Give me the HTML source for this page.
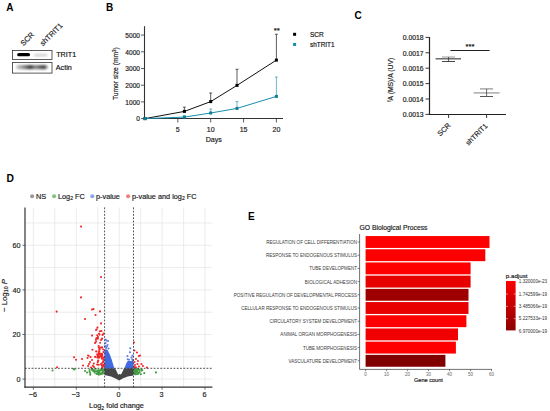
<!DOCTYPE html>
<html><head><meta charset="utf-8"><style>
html,body{margin:0;padding:0;background:#fff;width:550px;height:411px;overflow:hidden}
svg{display:block}
</style></head><body>
<svg width="550" height="411" viewBox="0 0 550 411">
<rect width="550" height="411" fill="#fff"/>
<text x="6.2" y="11.2" font-size="10" font-weight="bold" font-family="Liberation Sans, sans-serif">A</text>
<text stroke="#222" stroke-width="0.18" transform="translate(23.6,46.2) rotate(-45)" font-size="7.4" font-family="Liberation Sans, sans-serif" fill="#222">SCR</text>
<text stroke="#222" stroke-width="0.18" transform="translate(43,46.2) rotate(-45)" font-size="7.4" font-family="Liberation Sans, sans-serif" fill="#222">shTRIT1</text>
<defs><filter id="bl" x="-50%" y="-50%" width="200%" height="200%"><feGaussianBlur stdDeviation="0.6"/></filter><filter id="bl2" x="-50%" y="-50%" width="200%" height="200%"><feGaussianBlur stdDeviation="1.0"/></filter><linearGradient id="cbar" x1="0" y1="0" x2="0" y2="1"><stop offset="0" stop-color="#ff0000"/><stop offset="1" stop-color="#8b0000"/></linearGradient><linearGradient id="act" x1="0" y1="0" x2="1" y2="0"><stop offset="0" stop-color="#d0d0d0"/><stop offset="0.25" stop-color="#888"/><stop offset="0.45" stop-color="#3a3a3a"/><stop offset="0.6" stop-color="#8a8a8a"/><stop offset="0.88" stop-color="#444"/><stop offset="1" stop-color="#bbb"/></linearGradient></defs>
<rect x="12.5" y="50.5" width="39.5" height="9" fill="#fff" stroke="#333" stroke-width="0.8"/>
<rect x="12.5" y="62.5" width="39.5" height="10.6" fill="#fff" stroke="#333" stroke-width="0.8"/>
<rect x="17.2" y="52.9" width="12.8" height="3.4" rx="1.6" fill="#000" filter="url(#bl)"/>
<rect x="34" y="53.8" width="13.5" height="2.6" rx="1.2" fill="#d4d4d4" filter="url(#bl2)"/>
<rect x="16" y="65" width="32" height="4.2" rx="2" fill="url(#act)" filter="url(#bl2)"/>
<text stroke="#111" stroke-width="0.18" x="56.2" y="57.3" font-size="7.2" font-family="Liberation Sans, sans-serif" fill="#111">TRIT1</text>
<text stroke="#111" stroke-width="0.18" x="55.8" y="69.9" font-size="7.2" font-family="Liberation Sans, sans-serif" fill="#111">Actin</text>
<text x="106" y="11.4" font-size="10" font-weight="bold" font-family="Liberation Sans, sans-serif">B</text>
<line x1="144.5" y1="26.2" x2="144.5" y2="119" stroke="#333" stroke-width="1.1"/>
<line x1="144" y1="118.5" x2="283" y2="118.5" stroke="#333" stroke-width="1.1"/>
<line x1="141" y1="118.6" x2="145.0" y2="118.6" stroke="#333" stroke-width="0.8"/>
<text stroke="#222" stroke-width="0.18" x="140" y="121.4" font-size="6.6" text-anchor="end" font-family="Liberation Sans, sans-serif" fill="#222">0</text>
<line x1="141" y1="101.9" x2="145.0" y2="101.9" stroke="#333" stroke-width="0.8"/>
<text stroke="#222" stroke-width="0.18" x="140" y="104.7" font-size="6.6" text-anchor="end" font-family="Liberation Sans, sans-serif" fill="#222">1000</text>
<line x1="141" y1="85.2" x2="145.0" y2="85.2" stroke="#333" stroke-width="0.8"/>
<text stroke="#222" stroke-width="0.18" x="140" y="88.0" font-size="6.6" text-anchor="end" font-family="Liberation Sans, sans-serif" fill="#222">2000</text>
<line x1="141" y1="68.5" x2="145.0" y2="68.5" stroke="#333" stroke-width="0.8"/>
<text stroke="#222" stroke-width="0.18" x="140" y="71.3" font-size="6.6" text-anchor="end" font-family="Liberation Sans, sans-serif" fill="#222">3000</text>
<line x1="141" y1="51.8" x2="145.0" y2="51.8" stroke="#333" stroke-width="0.8"/>
<text stroke="#222" stroke-width="0.18" x="140" y="54.6" font-size="6.6" text-anchor="end" font-family="Liberation Sans, sans-serif" fill="#222">4000</text>
<line x1="141" y1="35.1" x2="145.0" y2="35.1" stroke="#333" stroke-width="0.8"/>
<text stroke="#222" stroke-width="0.18" x="140" y="37.9" font-size="6.6" text-anchor="end" font-family="Liberation Sans, sans-serif" fill="#222">5000</text>
<line x1="177.8" y1="118.6" x2="177.8" y2="122.5" stroke="#333" stroke-width="0.8"/>
<text stroke="#222" stroke-width="0.18" x="177.8" y="131.7" font-size="7" text-anchor="middle" font-family="Liberation Sans, sans-serif" fill="#222">5</text>
<line x1="210.7" y1="118.6" x2="210.7" y2="122.5" stroke="#333" stroke-width="0.8"/>
<text stroke="#222" stroke-width="0.18" x="210.7" y="131.7" font-size="7" text-anchor="middle" font-family="Liberation Sans, sans-serif" fill="#222">10</text>
<line x1="243.6" y1="118.6" x2="243.6" y2="122.5" stroke="#333" stroke-width="0.8"/>
<text stroke="#222" stroke-width="0.18" x="243.6" y="131.7" font-size="7" text-anchor="middle" font-family="Liberation Sans, sans-serif" fill="#222">15</text>
<line x1="276.4" y1="118.6" x2="276.4" y2="122.5" stroke="#333" stroke-width="0.8"/>
<text stroke="#222" stroke-width="0.18" x="276.4" y="131.7" font-size="7" text-anchor="middle" font-family="Liberation Sans, sans-serif" fill="#222">20</text>
<text stroke="#222" stroke-width="0.18" x="213.8" y="142.1" font-size="7.1" text-anchor="middle" font-family="Liberation Sans, sans-serif" fill="#222">Days</text>
<text stroke="#222" stroke-width="0.18" transform="translate(118.4,73.6) rotate(-90)" font-size="6.7" text-anchor="middle" font-family="Liberation Sans, sans-serif" fill="#222">Tumor size (mm<tspan font-size="4.5" dy="-2.5">3</tspan><tspan dy="2.5">)</tspan></text>
<line x1="184.4" y1="107.2" x2="184.4" y2="111.4" stroke="#333" stroke-width="0.8"/>
<line x1="182.9" y1="107.2" x2="185.9" y2="107.2" stroke="#333" stroke-width="0.8"/>
<line x1="210.7" y1="93.0" x2="210.7" y2="101.6" stroke="#333" stroke-width="0.8"/>
<line x1="209.2" y1="93.0" x2="212.2" y2="93.0" stroke="#333" stroke-width="0.8"/>
<line x1="237.0" y1="69.3" x2="237.0" y2="85.4" stroke="#333" stroke-width="0.8"/>
<line x1="235.5" y1="69.3" x2="238.5" y2="69.3" stroke="#333" stroke-width="0.8"/>
<line x1="276.4" y1="34.3" x2="276.4" y2="60.1" stroke="#333" stroke-width="0.8"/>
<line x1="274.9" y1="34.3" x2="277.9" y2="34.3" stroke="#333" stroke-width="0.8"/>
<line x1="184.4" y1="115.9" x2="184.4" y2="117.1" stroke="#45a6bd" stroke-width="0.8"/>
<line x1="182.9" y1="115.9" x2="185.9" y2="115.9" stroke="#45a6bd" stroke-width="0.8"/>
<line x1="210.7" y1="109.0" x2="210.7" y2="113.0" stroke="#45a6bd" stroke-width="0.8"/>
<line x1="209.2" y1="109.0" x2="212.2" y2="109.0" stroke="#45a6bd" stroke-width="0.8"/>
<line x1="237.0" y1="101.6" x2="237.0" y2="108.4" stroke="#45a6bd" stroke-width="0.8"/>
<line x1="235.5" y1="101.6" x2="238.5" y2="101.6" stroke="#45a6bd" stroke-width="0.8"/>
<line x1="276.4" y1="77.0" x2="276.4" y2="96.4" stroke="#45a6bd" stroke-width="0.8"/>
<line x1="274.9" y1="77.0" x2="277.9" y2="77.0" stroke="#45a6bd" stroke-width="0.8"/>
<polyline fill="none" stroke="#111" stroke-width="1" points="145.0,118.6 184.4,111.4 210.7,101.6 237.0,85.4 276.4,60.1"/>
<polyline fill="none" stroke="#1590AC" stroke-width="1" points="145.0,118.6 184.4,117.1 210.7,113.0 237.0,108.4 276.4,96.4"/>
<rect x="143.5" y="117.1" width="3" height="3" fill="#000"/>
<rect x="182.9" y="109.9" width="3" height="3" fill="#000"/>
<rect x="209.2" y="100.1" width="3" height="3" fill="#000"/>
<rect x="235.5" y="83.9" width="3" height="3" fill="#000"/>
<rect x="274.9" y="58.6" width="3" height="3" fill="#000"/>
<rect x="143.5" y="117.1" width="3" height="3" fill="#0e7d94"/>
<rect x="182.9" y="115.6" width="3" height="3" fill="#0e7d94"/>
<rect x="209.2" y="111.5" width="3" height="3" fill="#0e7d94"/>
<rect x="235.5" y="106.9" width="3" height="3" fill="#0e7d94"/>
<rect x="274.9" y="94.9" width="3" height="3" fill="#0e7d94"/>
<text stroke="#111" stroke-width="0.18" x="276.8" y="32.9" font-size="8" text-anchor="middle" font-family="Liberation Sans, sans-serif" fill="#111">**</text>
<rect x="293.1" y="32.8" width="3" height="3" fill="#000"/>
<rect x="293.1" y="43" width="3" height="3" fill="#1590AC"/>
<text stroke="#111" stroke-width="0.18" x="310" y="37.0" font-size="7.5" textLength="13.8" lengthAdjust="spacingAndGlyphs" font-family="Liberation Sans, sans-serif" fill="#111">SCR</text>
<text stroke="#111" stroke-width="0.18" x="310" y="47.3" font-size="7.5" textLength="24.6" lengthAdjust="spacingAndGlyphs" font-family="Liberation Sans, sans-serif" fill="#111">shTRIT1</text>
<text x="354.4" y="19" font-size="10" font-weight="bold" font-family="Liberation Sans, sans-serif">C</text>
<line x1="429.5" y1="37" x2="429.5" y2="115" stroke="#222" stroke-width="1.2"/>
<line x1="429" y1="114.5" x2="506" y2="114.5" stroke="#222" stroke-width="1.2"/>
<line x1="425.5" y1="114.4" x2="429.4" y2="114.4" stroke="#222" stroke-width="0.9"/>
<text stroke="#222" stroke-width="0.18" x="423.6" y="117.2" font-size="6.8" text-anchor="end" font-family="Liberation Sans, sans-serif" fill="#222">0.0013</text>
<line x1="425.5" y1="99.0" x2="429.4" y2="99.0" stroke="#222" stroke-width="0.9"/>
<text stroke="#222" stroke-width="0.18" x="423.6" y="101.8" font-size="6.8" text-anchor="end" font-family="Liberation Sans, sans-serif" fill="#222">0.0014</text>
<line x1="425.5" y1="83.6" x2="429.4" y2="83.6" stroke="#222" stroke-width="0.9"/>
<text stroke="#222" stroke-width="0.18" x="423.6" y="86.4" font-size="6.8" text-anchor="end" font-family="Liberation Sans, sans-serif" fill="#222">0.0015</text>
<line x1="425.5" y1="68.2" x2="429.4" y2="68.2" stroke="#222" stroke-width="0.9"/>
<text stroke="#222" stroke-width="0.18" x="423.6" y="71.0" font-size="6.8" text-anchor="end" font-family="Liberation Sans, sans-serif" fill="#222">0.0016</text>
<line x1="425.5" y1="52.8" x2="429.4" y2="52.8" stroke="#222" stroke-width="0.9"/>
<text stroke="#222" stroke-width="0.18" x="423.6" y="55.6" font-size="6.8" text-anchor="end" font-family="Liberation Sans, sans-serif" fill="#222">0.0017</text>
<line x1="425.5" y1="37.4" x2="429.4" y2="37.4" stroke="#222" stroke-width="0.9"/>
<text stroke="#222" stroke-width="0.18" x="423.6" y="40.2" font-size="6.8" text-anchor="end" font-family="Liberation Sans, sans-serif" fill="#222">0.0018</text>
<line x1="448.6" y1="114.4" x2="448.6" y2="118" stroke="#222" stroke-width="0.9"/>
<line x1="486.6" y1="114.4" x2="486.6" y2="118" stroke="#222" stroke-width="0.9"/>
<text stroke="#222" stroke-width="0.18" transform="translate(451,125.8) rotate(-45)" font-size="7.2" text-anchor="end" font-family="Liberation Sans, sans-serif" fill="#222">SCR</text>
<text stroke="#222" stroke-width="0.18" transform="translate(488,126.3) rotate(-45)" font-size="7.2" text-anchor="end" font-family="Liberation Sans, sans-serif" fill="#222">shTRIT1</text>
<text stroke="#222" stroke-width="0.18" transform="translate(393.2,79.7) rotate(-90)" font-size="6.8" text-anchor="middle" font-family="Liberation Sans, sans-serif" fill="#222"><tspan font-size="4.5" dy="-2.5">f</tspan><tspan dy="2.5">A (MS)/A (UV)</tspan></text>
<line x1="442" y1="57" x2="455" y2="57" stroke="#9a9a9a" stroke-width="1"/>
<line x1="435.6" y1="58.8" x2="461" y2="58.8" stroke="#555" stroke-width="1.3"/>
<line x1="448.6" y1="57" x2="448.6" y2="61.5" stroke="#333" stroke-width="0.8"/>
<line x1="442" y1="61.5" x2="455" y2="61.5" stroke="#333" stroke-width="0.9"/>
<line x1="480" y1="88.9" x2="493" y2="88.9" stroke="#888" stroke-width="1.1"/>
<line x1="473.6" y1="92.9" x2="499.6" y2="92.9" stroke="#aaa" stroke-width="1.5"/>
<line x1="486.6" y1="88.9" x2="486.6" y2="96.5" stroke="#444" stroke-width="0.8"/>
<line x1="480" y1="96.5" x2="493" y2="96.5" stroke="#444" stroke-width="0.9"/>
<line x1="450.4" y1="50.5" x2="489.6" y2="50.5" stroke="#222" stroke-width="1"/>
<text stroke="#111" stroke-width="0.18" x="470" y="49.2" font-size="7.6" text-anchor="middle" font-family="Liberation Sans, sans-serif" fill="#111">***</text>
<text x="6.6" y="181.6" font-size="10.3" font-weight="bold" font-family="Liberation Sans, sans-serif">D</text>
<line x1="33.4" y1="207.4" x2="33.4" y2="387.2" stroke="#e4e4e4" stroke-width="0.7"/>
<line x1="54.8" y1="207.4" x2="54.8" y2="387.2" stroke="#e4e4e4" stroke-width="0.7"/>
<line x1="76.3" y1="207.4" x2="76.3" y2="387.2" stroke="#e4e4e4" stroke-width="0.7"/>
<line x1="97.8" y1="207.4" x2="97.8" y2="387.2" stroke="#e4e4e4" stroke-width="0.7"/>
<line x1="119.2" y1="207.4" x2="119.2" y2="387.2" stroke="#e4e4e4" stroke-width="0.7"/>
<line x1="140.7" y1="207.4" x2="140.7" y2="387.2" stroke="#e4e4e4" stroke-width="0.7"/>
<line x1="162.1" y1="207.4" x2="162.1" y2="387.2" stroke="#e4e4e4" stroke-width="0.7"/>
<line x1="183.6" y1="207.4" x2="183.6" y2="387.2" stroke="#e4e4e4" stroke-width="0.7"/>
<line x1="205.0" y1="207.4" x2="205.0" y2="387.2" stroke="#e4e4e4" stroke-width="0.7"/>
<line x1="25.0" y1="379.1" x2="212.4" y2="379.1" stroke="#e4e4e4" stroke-width="0.7"/>
<line x1="25.0" y1="356.8" x2="212.4" y2="356.8" stroke="#e4e4e4" stroke-width="0.7"/>
<line x1="25.0" y1="334.5" x2="212.4" y2="334.5" stroke="#e4e4e4" stroke-width="0.7"/>
<line x1="25.0" y1="312.2" x2="212.4" y2="312.2" stroke="#e4e4e4" stroke-width="0.7"/>
<line x1="25.0" y1="289.9" x2="212.4" y2="289.9" stroke="#e4e4e4" stroke-width="0.7"/>
<line x1="25.0" y1="267.6" x2="212.4" y2="267.6" stroke="#e4e4e4" stroke-width="0.7"/>
<line x1="25.0" y1="245.3" x2="212.4" y2="245.3" stroke="#e4e4e4" stroke-width="0.7"/>
<line x1="25.0" y1="223.0" x2="212.4" y2="223.0" stroke="#e4e4e4" stroke-width="0.7"/>
<polygon fill="#464646" points="104.5,368.2 115,368.2 116.5,371 118.2,374.8 119.5,374 121,374.5 122.6,371.5 124.1,368.2 133.4,368.2 133.4,375.5 127.7,376.6 122.6,378.4 119.3,380.4 116,378.8 111,376.6 104.5,375.1"/>
<polygon fill="#4169E1" points="104.5,368.4 104.5,349.4 107.3,349.4 109.5,353.8 111.7,359.6 114.4,368.4"/>
<polygon fill="#4169E1" points="124.4,368.4 126.3,363.2 127.7,361 131.4,361 133.4,359.4 133.4,368.4"/>
<path d="M99.9,369.6a1.05,1.05 0 1,0 2.1,0a1.05,1.05 0 1,0 -2.1,0M91.6,369.2a1.05,1.05 0 1,0 2.1,0a1.05,1.05 0 1,0 -2.1,0M101.1,369.7a1.05,1.05 0 1,0 2.1,0a1.05,1.05 0 1,0 -2.1,0M102.6,370.1a1.05,1.05 0 1,0 2.1,0a1.05,1.05 0 1,0 -2.1,0M99.8,369.8a1.05,1.05 0 1,0 2.1,0a1.05,1.05 0 1,0 -2.1,0M93.2,370.8a1.05,1.05 0 1,0 2.1,0a1.05,1.05 0 1,0 -2.1,0M89.1,373.1a1.05,1.05 0 1,0 2.1,0a1.05,1.05 0 1,0 -2.1,0M94.0,371.4a1.05,1.05 0 1,0 2.1,0a1.05,1.05 0 1,0 -2.1,0M102.7,369.4a1.05,1.05 0 1,0 2.1,0a1.05,1.05 0 1,0 -2.1,0M99.5,370.4a1.05,1.05 0 1,0 2.1,0a1.05,1.05 0 1,0 -2.1,0M101.6,372.2a1.05,1.05 0 1,0 2.1,0a1.05,1.05 0 1,0 -2.1,0M95.6,373.6a1.05,1.05 0 1,0 2.1,0a1.05,1.05 0 1,0 -2.1,0M101.7,370.4a1.05,1.05 0 1,0 2.1,0a1.05,1.05 0 1,0 -2.1,0M93.4,370.2a1.05,1.05 0 1,0 2.1,0a1.05,1.05 0 1,0 -2.1,0M95.7,371.2a1.05,1.05 0 1,0 2.1,0a1.05,1.05 0 1,0 -2.1,0M97.9,370.3a1.05,1.05 0 1,0 2.1,0a1.05,1.05 0 1,0 -2.1,0M96.4,370.5a1.05,1.05 0 1,0 2.1,0a1.05,1.05 0 1,0 -2.1,0M88.5,371.6a1.05,1.05 0 1,0 2.1,0a1.05,1.05 0 1,0 -2.1,0M102.7,372.1a1.05,1.05 0 1,0 2.1,0a1.05,1.05 0 1,0 -2.1,0M102.5,370.7a1.05,1.05 0 1,0 2.1,0a1.05,1.05 0 1,0 -2.1,0M90.8,369.1a1.05,1.05 0 1,0 2.1,0a1.05,1.05 0 1,0 -2.1,0M97.3,374.1a1.05,1.05 0 1,0 2.1,0a1.05,1.05 0 1,0 -2.1,0M89.2,374.7a1.05,1.05 0 1,0 2.1,0a1.05,1.05 0 1,0 -2.1,0M97.5,372.7a1.05,1.05 0 1,0 2.1,0a1.05,1.05 0 1,0 -2.1,0M99.8,374.2a1.05,1.05 0 1,0 2.1,0a1.05,1.05 0 1,0 -2.1,0M97.7,373.7a1.05,1.05 0 1,0 2.1,0a1.05,1.05 0 1,0 -2.1,0M99.2,373.8a1.05,1.05 0 1,0 2.1,0a1.05,1.05 0 1,0 -2.1,0M101.0,372.9a1.05,1.05 0 1,0 2.1,0a1.05,1.05 0 1,0 -2.1,0M96.6,371.7a1.05,1.05 0 1,0 2.1,0a1.05,1.05 0 1,0 -2.1,0M99.0,373.3a1.05,1.05 0 1,0 2.1,0a1.05,1.05 0 1,0 -2.1,0M93.6,372.8a1.05,1.05 0 1,0 2.1,0a1.05,1.05 0 1,0 -2.1,0M97.8,370.3a1.05,1.05 0 1,0 2.1,0a1.05,1.05 0 1,0 -2.1,0M97.8,374.7a1.05,1.05 0 1,0 2.1,0a1.05,1.05 0 1,0 -2.1,0M98.4,372.5a1.05,1.05 0 1,0 2.1,0a1.05,1.05 0 1,0 -2.1,0M97.9,370.6a1.05,1.05 0 1,0 2.1,0a1.05,1.05 0 1,0 -2.1,0M102.6,371.5a1.05,1.05 0 1,0 2.1,0a1.05,1.05 0 1,0 -2.1,0M102.3,369.6a1.05,1.05 0 1,0 2.1,0a1.05,1.05 0 1,0 -2.1,0M91.8,370.6a1.05,1.05 0 1,0 2.1,0a1.05,1.05 0 1,0 -2.1,0M101.2,370.5a1.05,1.05 0 1,0 2.1,0a1.05,1.05 0 1,0 -2.1,0M102.0,372.1a1.05,1.05 0 1,0 2.1,0a1.05,1.05 0 1,0 -2.1,0M98.1,372.7a1.05,1.05 0 1,0 2.1,0a1.05,1.05 0 1,0 -2.1,0M92.3,370.9a1.05,1.05 0 1,0 2.1,0a1.05,1.05 0 1,0 -2.1,0M97.8,374.7a1.05,1.05 0 1,0 2.1,0a1.05,1.05 0 1,0 -2.1,0M90.7,369.8a1.05,1.05 0 1,0 2.1,0a1.05,1.05 0 1,0 -2.1,0M91.8,369.6a1.05,1.05 0 1,0 2.1,0a1.05,1.05 0 1,0 -2.1,0M100.9,373.3a1.05,1.05 0 1,0 2.1,0a1.05,1.05 0 1,0 -2.1,0M102.6,369.6a1.05,1.05 0 1,0 2.1,0a1.05,1.05 0 1,0 -2.1,0M95.5,374.0a1.05,1.05 0 1,0 2.1,0a1.05,1.05 0 1,0 -2.1,0M100.6,368.9a1.05,1.05 0 1,0 2.1,0a1.05,1.05 0 1,0 -2.1,0M97.2,374.2a1.05,1.05 0 1,0 2.1,0a1.05,1.05 0 1,0 -2.1,0M94.7,368.8a1.05,1.05 0 1,0 2.1,0a1.05,1.05 0 1,0 -2.1,0M101.7,373.8a1.05,1.05 0 1,0 2.1,0a1.05,1.05 0 1,0 -2.1,0M102.7,370.3a1.05,1.05 0 1,0 2.1,0a1.05,1.05 0 1,0 -2.1,0M102.0,373.1a1.05,1.05 0 1,0 2.1,0a1.05,1.05 0 1,0 -2.1,0M98.4,371.5a1.05,1.05 0 1,0 2.1,0a1.05,1.05 0 1,0 -2.1,0M51.5,370.5a1.05,1.05 0 1,0 2.1,0a1.05,1.05 0 1,0 -2.1,0M72.5,369.0a1.05,1.05 0 1,0 2.1,0a1.05,1.05 0 1,0 -2.1,0M73.5,369.5a1.05,1.05 0 1,0 2.1,0a1.05,1.05 0 1,0 -2.1,0M154.9,372.4a1.05,1.05 0 1,0 2.1,0a1.05,1.05 0 1,0 -2.1,0M84.0,371.0a1.05,1.05 0 1,0 2.1,0a1.05,1.05 0 1,0 -2.1,0M86.0,372.5a1.05,1.05 0 1,0 2.1,0a1.05,1.05 0 1,0 -2.1,0M88.5,370.0a1.05,1.05 0 1,0 2.1,0a1.05,1.05 0 1,0 -2.1,0M133.1,373.3a1.05,1.05 0 1,0 2.1,0a1.05,1.05 0 1,0 -2.1,0M134.1,370.2a1.05,1.05 0 1,0 2.1,0a1.05,1.05 0 1,0 -2.1,0M140.5,369.4a1.05,1.05 0 1,0 2.1,0a1.05,1.05 0 1,0 -2.1,0M138.6,372.1a1.05,1.05 0 1,0 2.1,0a1.05,1.05 0 1,0 -2.1,0M135.2,372.2a1.05,1.05 0 1,0 2.1,0a1.05,1.05 0 1,0 -2.1,0M140.6,370.6a1.05,1.05 0 1,0 2.1,0a1.05,1.05 0 1,0 -2.1,0M138.3,372.6a1.05,1.05 0 1,0 2.1,0a1.05,1.05 0 1,0 -2.1,0M135.2,369.0a1.05,1.05 0 1,0 2.1,0a1.05,1.05 0 1,0 -2.1,0M137.4,372.7a1.05,1.05 0 1,0 2.1,0a1.05,1.05 0 1,0 -2.1,0M135.0,374.3a1.05,1.05 0 1,0 2.1,0a1.05,1.05 0 1,0 -2.1,0M138.3,369.9a1.05,1.05 0 1,0 2.1,0a1.05,1.05 0 1,0 -2.1,0M134.3,371.0a1.05,1.05 0 1,0 2.1,0a1.05,1.05 0 1,0 -2.1,0M133.3,371.0a1.05,1.05 0 1,0 2.1,0a1.05,1.05 0 1,0 -2.1,0M143.2,373.1a1.05,1.05 0 1,0 2.1,0a1.05,1.05 0 1,0 -2.1,0M136.4,369.8a1.05,1.05 0 1,0 2.1,0a1.05,1.05 0 1,0 -2.1,0M134.0,374.3a1.05,1.05 0 1,0 2.1,0a1.05,1.05 0 1,0 -2.1,0M137.5,369.1a1.05,1.05 0 1,0 2.1,0a1.05,1.05 0 1,0 -2.1,0M136.9,374.0a1.05,1.05 0 1,0 2.1,0a1.05,1.05 0 1,0 -2.1,0M136.8,373.9a1.05,1.05 0 1,0 2.1,0a1.05,1.05 0 1,0 -2.1,0M133.1,369.0a1.05,1.05 0 1,0 2.1,0a1.05,1.05 0 1,0 -2.1,0M132.7,373.1a1.05,1.05 0 1,0 2.1,0a1.05,1.05 0 1,0 -2.1,0M139.8,374.2a1.05,1.05 0 1,0 2.1,0a1.05,1.05 0 1,0 -2.1,0M134.7,373.4a1.05,1.05 0 1,0 2.1,0a1.05,1.05 0 1,0 -2.1,0M136.4,370.6a1.05,1.05 0 1,0 2.1,0a1.05,1.05 0 1,0 -2.1,0M141.2,370.2a1.05,1.05 0 1,0 2.1,0a1.05,1.05 0 1,0 -2.1,0M133.0,371.9a1.05,1.05 0 1,0 2.1,0a1.05,1.05 0 1,0 -2.1,0M135.6,369.3a1.05,1.05 0 1,0 2.1,0a1.05,1.05 0 1,0 -2.1,0M135.3,371.2a1.05,1.05 0 1,0 2.1,0a1.05,1.05 0 1,0 -2.1,0M136.0,372.0a1.05,1.05 0 1,0 2.1,0a1.05,1.05 0 1,0 -2.1,0M133.8,371.5a1.05,1.05 0 1,0 2.1,0a1.05,1.05 0 1,0 -2.1,0" fill="#228B22" fill-opacity="0.85"/>
<path d="M104.5,339.5a1.05,1.05 0 1,0 2.1,0a1.05,1.05 0 1,0 -2.1,0M105.5,340.5a1.05,1.05 0 1,0 2.1,0a1.05,1.05 0 1,0 -2.1,0M107.0,341.0a1.05,1.05 0 1,0 2.1,0a1.05,1.05 0 1,0 -2.1,0M106.5,345.0a1.05,1.05 0 1,0 2.1,0a1.05,1.05 0 1,0 -2.1,0M105.0,348.0a1.05,1.05 0 1,0 2.1,0a1.05,1.05 0 1,0 -2.1,0M104.5,343.0a1.05,1.05 0 1,0 2.1,0a1.05,1.05 0 1,0 -2.1,0M105.8,346.5a1.05,1.05 0 1,0 2.1,0a1.05,1.05 0 1,0 -2.1,0M104.2,346.0a1.05,1.05 0 1,0 2.1,0a1.05,1.05 0 1,0 -2.1,0M107.5,348.5a1.05,1.05 0 1,0 2.1,0a1.05,1.05 0 1,0 -2.1,0M129.2,348.3a1.05,1.05 0 1,0 2.1,0a1.05,1.05 0 1,0 -2.1,0M128.9,352.3a1.05,1.05 0 1,0 2.1,0a1.05,1.05 0 1,0 -2.1,0M126.4,356.0a1.05,1.05 0 1,0 2.1,0a1.05,1.05 0 1,0 -2.1,0M126.7,359.2a1.05,1.05 0 1,0 2.1,0a1.05,1.05 0 1,0 -2.1,0M131.4,355.6a1.05,1.05 0 1,0 2.1,0a1.05,1.05 0 1,0 -2.1,0M131.2,359.5a1.05,1.05 0 1,0 2.1,0a1.05,1.05 0 1,0 -2.1,0M128.0,359.8a1.05,1.05 0 1,0 2.1,0a1.05,1.05 0 1,0 -2.1,0M130.4,357.5a1.05,1.05 0 1,0 2.1,0a1.05,1.05 0 1,0 -2.1,0" fill="#4169E1" fill-opacity="0.85"/>
<path d="M80.0,226.6a1.05,1.05 0 1,0 2.1,0a1.05,1.05 0 1,0 -2.1,0M100.0,277.0a1.05,1.05 0 1,0 2.1,0a1.05,1.05 0 1,0 -2.1,0M55.6,311.6a1.05,1.05 0 1,0 2.1,0a1.05,1.05 0 1,0 -2.1,0M80.0,297.4a1.05,1.05 0 1,0 2.1,0a1.05,1.05 0 1,0 -2.1,0M91.0,309.6a1.05,1.05 0 1,0 2.1,0a1.05,1.05 0 1,0 -2.1,0M92.4,309.0a1.05,1.05 0 1,0 2.1,0a1.05,1.05 0 1,0 -2.1,0M99.0,311.4a1.05,1.05 0 1,0 2.1,0a1.05,1.05 0 1,0 -2.1,0M94.5,315.0a1.05,1.05 0 1,0 2.1,0a1.05,1.05 0 1,0 -2.1,0M84.0,319.0a1.05,1.05 0 1,0 2.1,0a1.05,1.05 0 1,0 -2.1,0M100.0,323.4a1.05,1.05 0 1,0 2.1,0a1.05,1.05 0 1,0 -2.1,0M96.4,327.6a1.05,1.05 0 1,0 2.1,0a1.05,1.05 0 1,0 -2.1,0M95.5,329.6a1.05,1.05 0 1,0 2.1,0a1.05,1.05 0 1,0 -2.1,0M95.0,330.0a1.05,1.05 0 1,0 2.1,0a1.05,1.05 0 1,0 -2.1,0M100.4,331.0a1.05,1.05 0 1,0 2.1,0a1.05,1.05 0 1,0 -2.1,0M91.0,335.6a1.05,1.05 0 1,0 2.1,0a1.05,1.05 0 1,0 -2.1,0M97.0,337.0a1.05,1.05 0 1,0 2.1,0a1.05,1.05 0 1,0 -2.1,0M98.5,334.6a1.05,1.05 0 1,0 2.1,0a1.05,1.05 0 1,0 -2.1,0M101.5,335.0a1.05,1.05 0 1,0 2.1,0a1.05,1.05 0 1,0 -2.1,0M102.5,333.6a1.05,1.05 0 1,0 2.1,0a1.05,1.05 0 1,0 -2.1,0M95.0,341.6a1.05,1.05 0 1,0 2.1,0a1.05,1.05 0 1,0 -2.1,0M100.0,340.0a1.05,1.05 0 1,0 2.1,0a1.05,1.05 0 1,0 -2.1,0M56.0,367.2a1.05,1.05 0 1,0 2.1,0a1.05,1.05 0 1,0 -2.1,0M73.0,357.2a1.05,1.05 0 1,0 2.1,0a1.05,1.05 0 1,0 -2.1,0M75.0,359.7a1.05,1.05 0 1,0 2.1,0a1.05,1.05 0 1,0 -2.1,0M81.0,359.0a1.05,1.05 0 1,0 2.1,0a1.05,1.05 0 1,0 -2.1,0M82.0,365.5a1.05,1.05 0 1,0 2.1,0a1.05,1.05 0 1,0 -2.1,0M87.0,355.5a1.05,1.05 0 1,0 2.1,0a1.05,1.05 0 1,0 -2.1,0M86.5,358.0a1.05,1.05 0 1,0 2.1,0a1.05,1.05 0 1,0 -2.1,0M89.5,357.0a1.05,1.05 0 1,0 2.1,0a1.05,1.05 0 1,0 -2.1,0M91.0,360.0a1.05,1.05 0 1,0 2.1,0a1.05,1.05 0 1,0 -2.1,0M89.0,362.0a1.05,1.05 0 1,0 2.1,0a1.05,1.05 0 1,0 -2.1,0M88.0,364.0a1.05,1.05 0 1,0 2.1,0a1.05,1.05 0 1,0 -2.1,0M87.0,366.0a1.05,1.05 0 1,0 2.1,0a1.05,1.05 0 1,0 -2.1,0M90.0,367.5a1.05,1.05 0 1,0 2.1,0a1.05,1.05 0 1,0 -2.1,0M93.0,367.0a1.05,1.05 0 1,0 2.1,0a1.05,1.05 0 1,0 -2.1,0M132.9,342.5a1.05,1.05 0 1,0 2.1,0a1.05,1.05 0 1,0 -2.1,0M133.4,350.5a1.05,1.05 0 1,0 2.1,0a1.05,1.05 0 1,0 -2.1,0M135.9,352.5a1.05,1.05 0 1,0 2.1,0a1.05,1.05 0 1,0 -2.1,0M137.9,356.0a1.05,1.05 0 1,0 2.1,0a1.05,1.05 0 1,0 -2.1,0M138.9,355.5a1.05,1.05 0 1,0 2.1,0a1.05,1.05 0 1,0 -2.1,0M134.9,359.0a1.05,1.05 0 1,0 2.1,0a1.05,1.05 0 1,0 -2.1,0M136.9,361.0a1.05,1.05 0 1,0 2.1,0a1.05,1.05 0 1,0 -2.1,0M140.4,364.0a1.05,1.05 0 1,0 2.1,0a1.05,1.05 0 1,0 -2.1,0M136.4,364.0a1.05,1.05 0 1,0 2.1,0a1.05,1.05 0 1,0 -2.1,0M145.9,367.5a1.05,1.05 0 1,0 2.1,0a1.05,1.05 0 1,0 -2.1,0M133.4,362.0a1.05,1.05 0 1,0 2.1,0a1.05,1.05 0 1,0 -2.1,0M133.9,365.0a1.05,1.05 0 1,0 2.1,0a1.05,1.05 0 1,0 -2.1,0M133.2,367.0a1.05,1.05 0 1,0 2.1,0a1.05,1.05 0 1,0 -2.1,0M134.9,367.3a1.05,1.05 0 1,0 2.1,0a1.05,1.05 0 1,0 -2.1,0M137.9,366.5a1.05,1.05 0 1,0 2.1,0a1.05,1.05 0 1,0 -2.1,0M141.9,366.0a1.05,1.05 0 1,0 2.1,0a1.05,1.05 0 1,0 -2.1,0M97.9,357.7a1.05,1.05 0 1,0 2.1,0a1.05,1.05 0 1,0 -2.1,0M97.8,357.1a1.05,1.05 0 1,0 2.1,0a1.05,1.05 0 1,0 -2.1,0M99.9,347.5a1.05,1.05 0 1,0 2.1,0a1.05,1.05 0 1,0 -2.1,0M99.9,364.0a1.05,1.05 0 1,0 2.1,0a1.05,1.05 0 1,0 -2.1,0M97.7,364.7a1.05,1.05 0 1,0 2.1,0a1.05,1.05 0 1,0 -2.1,0M98.3,348.6a1.05,1.05 0 1,0 2.1,0a1.05,1.05 0 1,0 -2.1,0M101.1,354.1a1.05,1.05 0 1,0 2.1,0a1.05,1.05 0 1,0 -2.1,0M97.8,347.3a1.05,1.05 0 1,0 2.1,0a1.05,1.05 0 1,0 -2.1,0M101.3,355.3a1.05,1.05 0 1,0 2.1,0a1.05,1.05 0 1,0 -2.1,0M100.8,355.9a1.05,1.05 0 1,0 2.1,0a1.05,1.05 0 1,0 -2.1,0M102.0,361.2a1.05,1.05 0 1,0 2.1,0a1.05,1.05 0 1,0 -2.1,0M98.3,356.7a1.05,1.05 0 1,0 2.1,0a1.05,1.05 0 1,0 -2.1,0M101.3,362.7a1.05,1.05 0 1,0 2.1,0a1.05,1.05 0 1,0 -2.1,0M100.8,358.6a1.05,1.05 0 1,0 2.1,0a1.05,1.05 0 1,0 -2.1,0M102.2,366.6a1.05,1.05 0 1,0 2.1,0a1.05,1.05 0 1,0 -2.1,0M101.1,367.6a1.05,1.05 0 1,0 2.1,0a1.05,1.05 0 1,0 -2.1,0M97.6,356.1a1.05,1.05 0 1,0 2.1,0a1.05,1.05 0 1,0 -2.1,0M98.2,351.4a1.05,1.05 0 1,0 2.1,0a1.05,1.05 0 1,0 -2.1,0M100.6,365.3a1.05,1.05 0 1,0 2.1,0a1.05,1.05 0 1,0 -2.1,0M102.4,352.1a1.05,1.05 0 1,0 2.1,0a1.05,1.05 0 1,0 -2.1,0M98.3,349.8a1.05,1.05 0 1,0 2.1,0a1.05,1.05 0 1,0 -2.1,0M98.8,356.6a1.05,1.05 0 1,0 2.1,0a1.05,1.05 0 1,0 -2.1,0M101.4,357.2a1.05,1.05 0 1,0 2.1,0a1.05,1.05 0 1,0 -2.1,0M101.9,365.1a1.05,1.05 0 1,0 2.1,0a1.05,1.05 0 1,0 -2.1,0M99.7,354.7a1.05,1.05 0 1,0 2.1,0a1.05,1.05 0 1,0 -2.1,0M101.1,347.4a1.05,1.05 0 1,0 2.1,0a1.05,1.05 0 1,0 -2.1,0M98.6,349.5a1.05,1.05 0 1,0 2.1,0a1.05,1.05 0 1,0 -2.1,0M97.7,346.0a1.05,1.05 0 1,0 2.1,0a1.05,1.05 0 1,0 -2.1,0M98.0,353.9a1.05,1.05 0 1,0 2.1,0a1.05,1.05 0 1,0 -2.1,0M102.4,359.4a1.05,1.05 0 1,0 2.1,0a1.05,1.05 0 1,0 -2.1,0M98.9,353.6a1.05,1.05 0 1,0 2.1,0a1.05,1.05 0 1,0 -2.1,0M100.1,356.5a1.05,1.05 0 1,0 2.1,0a1.05,1.05 0 1,0 -2.1,0M98.0,353.5a1.05,1.05 0 1,0 2.1,0a1.05,1.05 0 1,0 -2.1,0M102.2,349.5a1.05,1.05 0 1,0 2.1,0a1.05,1.05 0 1,0 -2.1,0M102.9,357.5a1.05,1.05 0 1,0 2.1,0a1.05,1.05 0 1,0 -2.1,0M103.0,364.8a1.05,1.05 0 1,0 2.1,0a1.05,1.05 0 1,0 -2.1,0M98.9,354.0a1.05,1.05 0 1,0 2.1,0a1.05,1.05 0 1,0 -2.1,0M103.1,364.6a1.05,1.05 0 1,0 2.1,0a1.05,1.05 0 1,0 -2.1,0M102.1,362.1a1.05,1.05 0 1,0 2.1,0a1.05,1.05 0 1,0 -2.1,0M100.4,353.8a1.05,1.05 0 1,0 2.1,0a1.05,1.05 0 1,0 -2.1,0M97.6,352.1a1.05,1.05 0 1,0 2.1,0a1.05,1.05 0 1,0 -2.1,0M101.4,366.9a1.05,1.05 0 1,0 2.1,0a1.05,1.05 0 1,0 -2.1,0M96.1,364.5a1.05,1.05 0 1,0 2.1,0a1.05,1.05 0 1,0 -2.1,0M92.8,363.6a1.05,1.05 0 1,0 2.1,0a1.05,1.05 0 1,0 -2.1,0M94.1,356.9a1.05,1.05 0 1,0 2.1,0a1.05,1.05 0 1,0 -2.1,0M97.1,355.2a1.05,1.05 0 1,0 2.1,0a1.05,1.05 0 1,0 -2.1,0M96.7,362.1a1.05,1.05 0 1,0 2.1,0a1.05,1.05 0 1,0 -2.1,0M97.2,360.7a1.05,1.05 0 1,0 2.1,0a1.05,1.05 0 1,0 -2.1,0M91.4,349.7a1.05,1.05 0 1,0 2.1,0a1.05,1.05 0 1,0 -2.1,0M97.1,360.5a1.05,1.05 0 1,0 2.1,0a1.05,1.05 0 1,0 -2.1,0M96.6,356.0a1.05,1.05 0 1,0 2.1,0a1.05,1.05 0 1,0 -2.1,0M95.1,351.4a1.05,1.05 0 1,0 2.1,0a1.05,1.05 0 1,0 -2.1,0M87.5,355.7a1.05,1.05 0 1,0 2.1,0a1.05,1.05 0 1,0 -2.1,0M96.2,354.4a1.05,1.05 0 1,0 2.1,0a1.05,1.05 0 1,0 -2.1,0M91.8,365.8a1.05,1.05 0 1,0 2.1,0a1.05,1.05 0 1,0 -2.1,0M96.3,357.4a1.05,1.05 0 1,0 2.1,0a1.05,1.05 0 1,0 -2.1,0M98.8,331.3a1.05,1.05 0 1,0 2.1,0a1.05,1.05 0 1,0 -2.1,0M98.0,333.7a1.05,1.05 0 1,0 2.1,0a1.05,1.05 0 1,0 -2.1,0M94.0,343.0a1.05,1.05 0 1,0 2.1,0a1.05,1.05 0 1,0 -2.1,0M95.5,338.1a1.05,1.05 0 1,0 2.1,0a1.05,1.05 0 1,0 -2.1,0M100.6,339.3a1.05,1.05 0 1,0 2.1,0a1.05,1.05 0 1,0 -2.1,0M96.9,338.8a1.05,1.05 0 1,0 2.1,0a1.05,1.05 0 1,0 -2.1,0M99.1,342.8a1.05,1.05 0 1,0 2.1,0a1.05,1.05 0 1,0 -2.1,0M94.9,339.4a1.05,1.05 0 1,0 2.1,0a1.05,1.05 0 1,0 -2.1,0M96.2,335.2a1.05,1.05 0 1,0 2.1,0a1.05,1.05 0 1,0 -2.1,0M101.1,338.6a1.05,1.05 0 1,0 2.1,0a1.05,1.05 0 1,0 -2.1,0" fill="#EE0000" fill-opacity="0.85"/>
<line x1="104.6" y1="207.4" x2="104.6" y2="387.2" stroke="#333" stroke-width="0.85" stroke-dasharray="1.8,1.5"/>
<line x1="133.5" y1="207.4" x2="133.5" y2="387.2" stroke="#333" stroke-width="0.85" stroke-dasharray="1.8,1.5"/>
<line x1="25.0" y1="368.3" x2="212.4" y2="368.3" stroke="#333" stroke-width="0.85" stroke-dasharray="1.8,1.5"/>
<line x1="25.0" y1="207.4" x2="25.0" y2="387.8" stroke="#333" stroke-width="1.2"/>
<line x1="24.4" y1="387.2" x2="212.4" y2="387.2" stroke="#333" stroke-width="1.2"/>
<line x1="22.5" y1="379.1" x2="25.0" y2="379.1" stroke="#444" stroke-width="0.8"/>
<text stroke="#222" stroke-width="0.18" x="20.6" y="381.7" font-size="7.2" text-anchor="end" font-family="Liberation Sans, sans-serif" fill="#222">0</text>
<line x1="22.5" y1="334.5" x2="25.0" y2="334.5" stroke="#444" stroke-width="0.8"/>
<text stroke="#222" stroke-width="0.18" x="20.6" y="337.1" font-size="7.2" text-anchor="end" font-family="Liberation Sans, sans-serif" fill="#222">20</text>
<line x1="22.5" y1="289.9" x2="25.0" y2="289.9" stroke="#444" stroke-width="0.8"/>
<text stroke="#222" stroke-width="0.18" x="20.6" y="292.5" font-size="7.2" text-anchor="end" font-family="Liberation Sans, sans-serif" fill="#222">40</text>
<line x1="22.5" y1="245.3" x2="25.0" y2="245.3" stroke="#444" stroke-width="0.8"/>
<text stroke="#222" stroke-width="0.18" x="20.6" y="247.9" font-size="7.2" text-anchor="end" font-family="Liberation Sans, sans-serif" fill="#222">60</text>
<line x1="33.4" y1="387.2" x2="33.4" y2="389.6" stroke="#444" stroke-width="0.8"/>
<text stroke="#222" stroke-width="0.18" x="32.8" y="397.1" font-size="7.2" text-anchor="middle" font-family="Liberation Sans, sans-serif" fill="#222">−6</text>
<line x1="76.3" y1="387.2" x2="76.3" y2="389.6" stroke="#444" stroke-width="0.8"/>
<text stroke="#222" stroke-width="0.18" x="75.7" y="397.1" font-size="7.2" text-anchor="middle" font-family="Liberation Sans, sans-serif" fill="#222">−3</text>
<line x1="119.2" y1="387.2" x2="119.2" y2="389.6" stroke="#444" stroke-width="0.8"/>
<text stroke="#222" stroke-width="0.18" x="118.6" y="397.1" font-size="7.2" text-anchor="middle" font-family="Liberation Sans, sans-serif" fill="#222">0</text>
<line x1="162.1" y1="387.2" x2="162.1" y2="389.6" stroke="#444" stroke-width="0.8"/>
<text stroke="#222" stroke-width="0.18" x="161.5" y="397.1" font-size="7.2" text-anchor="middle" font-family="Liberation Sans, sans-serif" fill="#222">3</text>
<line x1="205.0" y1="387.2" x2="205.0" y2="389.6" stroke="#444" stroke-width="0.8"/>
<text stroke="#222" stroke-width="0.18" x="204.4" y="397.1" font-size="7.2" text-anchor="middle" font-family="Liberation Sans, sans-serif" fill="#222">6</text>
<text stroke="#222" stroke-width="0.18" x="116.5" y="407.9" font-size="7.3" text-anchor="middle" font-family="Liberation Sans, sans-serif" fill="#222">Log<tspan font-size="5.2" dy="1.6">2</tspan><tspan dy="-1.6"> fold change</tspan></text>
<text stroke="#222" stroke-width="0.18" transform="translate(6.8,295.5) rotate(-90)" font-size="7.8" text-anchor="middle" font-family="Liberation Sans, sans-serif" fill="#222">− Log<tspan font-size="5.4" dy="1.6">10</tspan><tspan dy="-1.6" font-style="italic"> P</tspan></text>
<circle cx="32.1" cy="196.3" r="2.05" fill="#999999"/>
<circle cx="54.099999999999994" cy="196.3" r="2.05" fill="#82c282"/>
<circle cx="92.3" cy="196.3" r="2.05" fill="#8aa4ee"/>
<circle cx="128.1" cy="196.3" r="2.05" fill="#f27d7d"/>
<text stroke="#222" stroke-width="0.18" x="36" y="198.8" font-size="7.3" font-family="Liberation Sans, sans-serif" fill="#222">NS</text>
<text stroke="#222" stroke-width="0.18" x="58" y="198.8" font-size="7.3" font-family="Liberation Sans, sans-serif" fill="#222">Log<tspan font-size="5.2" dy="1.6">2</tspan><tspan dy="-1.6"> FC</tspan></text>
<text stroke="#222" stroke-width="0.18" x="96" y="198.8" font-size="7.3" font-family="Liberation Sans, sans-serif" fill="#222">p-value</text>
<text stroke="#222" stroke-width="0.18" x="132" y="198.8" font-size="7.3" font-family="Liberation Sans, sans-serif" fill="#222">p-value and log<tspan font-size="5.2" dy="1.6">2</tspan><tspan dy="-1.6"> FC</tspan></text>
<text x="248" y="219.6" font-size="10" font-weight="bold" font-family="Liberation Sans, sans-serif">E</text>
<text stroke="#222" stroke-width="0.18" x="359.5" y="230.4" font-size="6.8" font-family="Liberation Sans, sans-serif" fill="#222">GO Biological Process</text>
<rect x="365.6" y="236.05" width="123.90" height="11.9" fill="#ff0000"/>
<line x1="357.6" y1="242.0" x2="359.6" y2="242.0" stroke="#333" stroke-width="0.6"/>
<text x="357" y="243.9" font-size="4.55" text-anchor="end" font-family="Liberation Sans, sans-serif" fill="#3a3a3a">REGULATION OF CELL DIFFERENTIATION</text>
<rect x="365.6" y="249.25" width="119.70" height="11.9" fill="#fc0000"/>
<line x1="357.6" y1="255.2" x2="359.6" y2="255.2" stroke="#333" stroke-width="0.6"/>
<text x="357" y="257.1" font-size="4.55" text-anchor="end" font-family="Liberation Sans, sans-serif" fill="#3a3a3a">RESPONSE TO ENDOGENOUS STIMULUS</text>
<rect x="365.6" y="262.45" width="105.00" height="11.9" fill="#ff0000"/>
<line x1="357.6" y1="268.4" x2="359.6" y2="268.4" stroke="#333" stroke-width="0.6"/>
<text x="357" y="270.3" font-size="4.55" text-anchor="end" font-family="Liberation Sans, sans-serif" fill="#3a3a3a">TUBE DEVELOPMENT</text>
<rect x="365.6" y="275.65" width="105.00" height="11.9" fill="#e60000"/>
<line x1="357.6" y1="281.6" x2="359.6" y2="281.6" stroke="#333" stroke-width="0.6"/>
<text x="357" y="283.5" font-size="4.55" text-anchor="end" font-family="Liberation Sans, sans-serif" fill="#3a3a3a">BIOLOGICAL ADHESION</text>
<rect x="365.6" y="288.85" width="102.90" height="11.9" fill="#9e0000"/>
<line x1="357.6" y1="294.8" x2="359.6" y2="294.8" stroke="#333" stroke-width="0.6"/>
<text x="357" y="296.7" font-size="4.55" text-anchor="end" font-family="Liberation Sans, sans-serif" fill="#3a3a3a">POSITIVE REGULATION OF DEVELOPMENTAL PROCESS</text>
<rect x="365.6" y="302.05" width="102.90" height="11.9" fill="#e80000"/>
<line x1="357.6" y1="308.0" x2="359.6" y2="308.0" stroke="#333" stroke-width="0.6"/>
<text x="357" y="309.9" font-size="4.55" text-anchor="end" font-family="Liberation Sans, sans-serif" fill="#3a3a3a">CELLULAR RESPONSE TO ENDOGENOUS STIMULUS</text>
<rect x="365.6" y="315.25" width="100.80" height="11.9" fill="#ff0000"/>
<line x1="357.6" y1="321.2" x2="359.6" y2="321.2" stroke="#333" stroke-width="0.6"/>
<text x="357" y="323.1" font-size="4.55" text-anchor="end" font-family="Liberation Sans, sans-serif" fill="#3a3a3a">CIRCULATORY SYSTEM DEVELOPMENT</text>
<rect x="365.6" y="328.45" width="92.40" height="11.9" fill="#f00000"/>
<line x1="357.6" y1="334.4" x2="359.6" y2="334.4" stroke="#333" stroke-width="0.6"/>
<text x="357" y="336.3" font-size="4.55" text-anchor="end" font-family="Liberation Sans, sans-serif" fill="#3a3a3a">ANIMAL ORGAN MORPHOGENESIS</text>
<rect x="365.6" y="341.65" width="90.30" height="11.9" fill="#ff0000"/>
<line x1="357.6" y1="347.6" x2="359.6" y2="347.6" stroke="#333" stroke-width="0.6"/>
<text x="357" y="349.5" font-size="4.55" text-anchor="end" font-family="Liberation Sans, sans-serif" fill="#3a3a3a">TUBE MORPHOGENESIS</text>
<rect x="365.6" y="354.85" width="79.80" height="11.9" fill="#800000"/>
<line x1="357.6" y1="360.8" x2="359.6" y2="360.8" stroke="#333" stroke-width="0.6"/>
<text x="357" y="362.7" font-size="4.55" text-anchor="end" font-family="Liberation Sans, sans-serif" fill="#3a3a3a">VASCULATURE DEVELOPMENT</text>
<line x1="359.6" y1="234" x2="359.6" y2="369.4" stroke="#333" stroke-width="0.7"/>
<line x1="359.6" y1="369.4" x2="492" y2="369.4" stroke="#333" stroke-width="0.7"/>
<line x1="365.6" y1="369.4" x2="365.6" y2="371.2" stroke="#333" stroke-width="0.6"/>
<text x="365.6" y="375.6" font-size="4.5" text-anchor="middle" font-family="Liberation Sans, sans-serif" fill="#666">0</text>
<line x1="386.6" y1="369.4" x2="386.6" y2="371.2" stroke="#333" stroke-width="0.6"/>
<text x="386.6" y="375.6" font-size="4.5" text-anchor="middle" font-family="Liberation Sans, sans-serif" fill="#666">10</text>
<line x1="407.6" y1="369.4" x2="407.6" y2="371.2" stroke="#333" stroke-width="0.6"/>
<text x="407.6" y="375.6" font-size="4.5" text-anchor="middle" font-family="Liberation Sans, sans-serif" fill="#666">20</text>
<line x1="428.6" y1="369.4" x2="428.6" y2="371.2" stroke="#333" stroke-width="0.6"/>
<text x="428.6" y="375.6" font-size="4.5" text-anchor="middle" font-family="Liberation Sans, sans-serif" fill="#666">30</text>
<line x1="449.6" y1="369.4" x2="449.6" y2="371.2" stroke="#333" stroke-width="0.6"/>
<text x="449.6" y="375.6" font-size="4.5" text-anchor="middle" font-family="Liberation Sans, sans-serif" fill="#666">40</text>
<line x1="470.6" y1="369.4" x2="470.6" y2="371.2" stroke="#333" stroke-width="0.6"/>
<text x="470.6" y="375.6" font-size="4.5" text-anchor="middle" font-family="Liberation Sans, sans-serif" fill="#666">50</text>
<line x1="491.6" y1="369.4" x2="491.6" y2="371.2" stroke="#333" stroke-width="0.6"/>
<text x="491.6" y="375.6" font-size="4.5" text-anchor="middle" font-family="Liberation Sans, sans-serif" fill="#666">60</text>
<text stroke="#222" stroke-width="0.18" x="428.4" y="382.3" font-size="5.6" text-anchor="middle" font-family="Liberation Sans, sans-serif" fill="#222">Gene count</text>
<text stroke="#222" stroke-width="0.18" x="505.8" y="277.6" font-size="6.2" font-family="Liberation Sans, sans-serif" fill="#222">p.adjust</text>
<rect x="506" y="281" width="9.6" height="49.4" fill="url(#cbar)"/>
<text x="518.8" y="283.3" font-size="4.6" font-family="Liberation Sans, sans-serif" fill="#333">1.320000e-23</text>
<line x1="506" y1="294.0" x2="508" y2="294.0" stroke="#fff" stroke-width="0.5"/>
<line x1="513.6" y1="294.0" x2="515.6" y2="294.0" stroke="#fff" stroke-width="0.5"/>
<text x="518.8" y="295.7" font-size="4.6" font-family="Liberation Sans, sans-serif" fill="#333">1.742599e-19</text>
<line x1="506" y1="306.3" x2="508" y2="306.3" stroke="#fff" stroke-width="0.5"/>
<line x1="513.6" y1="306.3" x2="515.6" y2="306.3" stroke="#fff" stroke-width="0.5"/>
<text x="518.8" y="308.0" font-size="4.6" font-family="Liberation Sans, sans-serif" fill="#333">3.485066e-19</text>
<line x1="506" y1="318.7" x2="508" y2="318.7" stroke="#fff" stroke-width="0.5"/>
<line x1="513.6" y1="318.7" x2="515.6" y2="318.7" stroke="#fff" stroke-width="0.5"/>
<text x="518.8" y="320.4" font-size="4.6" font-family="Liberation Sans, sans-serif" fill="#333">5.227533e-19</text>
<text x="518.8" y="332.7" font-size="4.6" font-family="Liberation Sans, sans-serif" fill="#333">6.970000e-19</text>
</svg></body></html>
